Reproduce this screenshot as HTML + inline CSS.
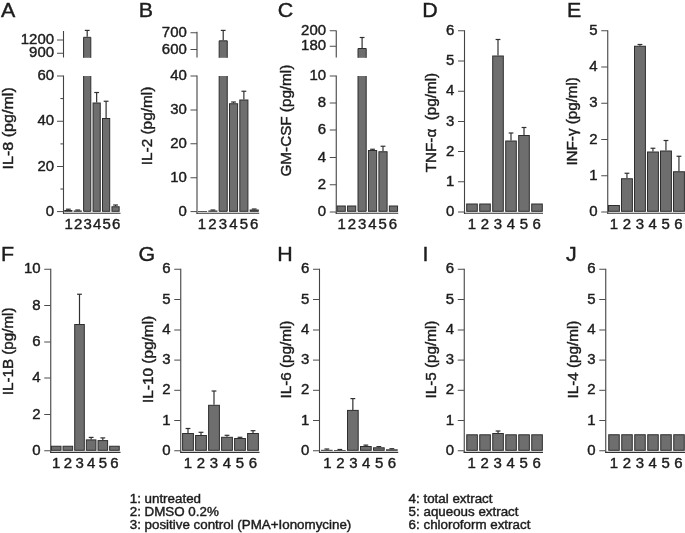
<!DOCTYPE html>
<html><head><meta charset="utf-8"><title>Figure</title>
<style>
html,body{margin:0;padding:0;background:#fff;}
svg{display:block;}
text{font-family:"Liberation Sans","DejaVu Sans",sans-serif;fill:#1c1c1c;stroke:#1c1c1c;stroke-width:0.4px;}
</style></head><body>
<svg width="685" height="533" viewBox="0 0 685 533">
<rect width="685" height="533" fill="#fff"/>
<line x1="63.50" y1="31.00" x2="63.50" y2="57.50" stroke="#424242" stroke-width="1.1"/>
<line x1="63.50" y1="75.50" x2="63.50" y2="213.85" stroke="#424242" stroke-width="1.1"/>
<line x1="57.00" y1="40.00" x2="63.50" y2="40.00" stroke="#4c4c4c" stroke-width="1"/>
<text transform="translate(54.10 44.00) scale(1.0700 1)" font-size="14" text-anchor="end">1200</text>
<line x1="57.00" y1="53.25" x2="63.50" y2="53.25" stroke="#4c4c4c" stroke-width="1"/>
<text transform="translate(54.10 57.25) scale(1.0700 1)" font-size="14" text-anchor="end">900</text>
<line x1="57.00" y1="76.00" x2="63.50" y2="76.00" stroke="#4c4c4c" stroke-width="1"/>
<text transform="translate(54.10 80.00) scale(1.0700 1)" font-size="14" text-anchor="end">60</text>
<line x1="57.00" y1="121.25" x2="63.50" y2="121.25" stroke="#4c4c4c" stroke-width="1"/>
<text transform="translate(54.10 125.25) scale(1.0700 1)" font-size="14" text-anchor="end">40</text>
<line x1="57.00" y1="166.50" x2="63.50" y2="166.50" stroke="#4c4c4c" stroke-width="1"/>
<text transform="translate(54.10 170.50) scale(1.0700 1)" font-size="14" text-anchor="end">20</text>
<line x1="57.00" y1="211.60" x2="63.50" y2="211.60" stroke="#4c4c4c" stroke-width="1"/>
<text transform="translate(54.10 215.60) scale(1.0700 1)" font-size="14" text-anchor="end">0</text>
<line x1="60.40" y1="98.60" x2="63.50" y2="98.60" stroke="#444" stroke-width="1"/>
<line x1="60.40" y1="143.90" x2="63.50" y2="143.90" stroke="#444" stroke-width="1"/>
<line x1="60.40" y1="189.00" x2="63.50" y2="189.00" stroke="#444" stroke-width="1"/>
<line x1="68.30" y1="209.20" x2="68.30" y2="210.00" stroke="#303030" stroke-width="1.2"/>
<line x1="65.90" y1="209.20" x2="70.70" y2="209.20" stroke="#303030" stroke-width="1.2"/>
<rect x="64.20" y="210.00" width="8.20" height="1.80" fill="#2e2e2e"/>
<line x1="77.75" y1="210.00" x2="77.75" y2="210.50" stroke="#303030" stroke-width="1.2"/>
<line x1="75.35" y1="210.00" x2="80.15" y2="210.00" stroke="#303030" stroke-width="1.2"/>
<rect x="73.65" y="210.50" width="8.20" height="1.30" fill="#2e2e2e"/>
<rect x="83.60" y="76.00" width="7.20" height="135.30" fill="#6e6e6e"/>
<path d="M83.60 76.00V211.30H90.80V76.00" fill="none" stroke="#2e2e2e" stroke-width="1"/>
<line x1="96.65" y1="92.50" x2="96.65" y2="102.50" stroke="#303030" stroke-width="1.2"/>
<line x1="94.25" y1="92.50" x2="99.05" y2="92.50" stroke="#303030" stroke-width="1.2"/>
<rect x="93.05" y="103.00" width="7.20" height="108.30" fill="#6e6e6e" stroke="#2e2e2e" stroke-width="1"/>
<line x1="106.10" y1="101.25" x2="106.10" y2="118.00" stroke="#303030" stroke-width="1.2"/>
<line x1="103.70" y1="101.25" x2="108.50" y2="101.25" stroke="#303030" stroke-width="1.2"/>
<rect x="102.50" y="118.50" width="7.20" height="92.80" fill="#6e6e6e" stroke="#2e2e2e" stroke-width="1"/>
<line x1="115.55" y1="205.00" x2="115.55" y2="206.25" stroke="#303030" stroke-width="1.2"/>
<line x1="113.15" y1="205.00" x2="117.95" y2="205.00" stroke="#303030" stroke-width="1.2"/>
<rect x="111.95" y="206.75" width="7.20" height="4.55" fill="#6e6e6e" stroke="#2e2e2e" stroke-width="1"/>
<line x1="87.20" y1="30.40" x2="87.20" y2="36.80" stroke="#303030" stroke-width="1.2"/>
<line x1="84.80" y1="30.40" x2="89.60" y2="30.40" stroke="#303030" stroke-width="1.2"/>
<rect x="83.60" y="37.30" width="7.20" height="20.50" fill="#6e6e6e"/>
<path d="M83.60 57.80V37.30H90.80V57.80" fill="none" stroke="#2e2e2e" stroke-width="1"/>
<line x1="62.95" y1="213.30" x2="120.50" y2="213.30" stroke="#303030" stroke-width="1.1"/>
<text transform="translate(68.75 228.90) scale(1.0700 1)" font-size="14" text-anchor="middle">1</text>
<text transform="translate(78.25 228.90) scale(1.0700 1)" font-size="14" text-anchor="middle">2</text>
<text transform="translate(87.75 228.90) scale(1.0700 1)" font-size="14" text-anchor="middle">3</text>
<text transform="translate(97.25 228.90) scale(1.0700 1)" font-size="14" text-anchor="middle">4</text>
<text transform="translate(106.75 228.90) scale(1.0700 1)" font-size="14" text-anchor="middle">5</text>
<text transform="translate(116.25 228.90) scale(1.0700 1)" font-size="14" text-anchor="middle">6</text>
<text transform="translate(12.70 169.50) rotate(-90) scale(1.1500 1)" font-size="14" text-anchor="start">IL-8 (pg/ml)</text>
<text transform="translate(0.90 16.90) scale(1.0700 1)" font-size="20" text-anchor="start">A</text>
<line x1="197.00" y1="31.75" x2="197.00" y2="57.50" stroke="#424242" stroke-width="1.1"/>
<line x1="197.00" y1="75.50" x2="197.00" y2="213.85" stroke="#424242" stroke-width="1.1"/>
<line x1="190.50" y1="32.75" x2="197.00" y2="32.75" stroke="#4c4c4c" stroke-width="1"/>
<text transform="translate(186.80 36.75) scale(1.0700 1)" font-size="14" text-anchor="end">700</text>
<line x1="190.50" y1="49.50" x2="197.00" y2="49.50" stroke="#4c4c4c" stroke-width="1"/>
<text transform="translate(186.80 53.50) scale(1.0700 1)" font-size="14" text-anchor="end">600</text>
<line x1="190.50" y1="76.00" x2="197.00" y2="76.00" stroke="#4c4c4c" stroke-width="1"/>
<text transform="translate(186.80 80.00) scale(1.0700 1)" font-size="14" text-anchor="end">40</text>
<line x1="190.50" y1="110.00" x2="197.00" y2="110.00" stroke="#4c4c4c" stroke-width="1"/>
<text transform="translate(186.80 114.00) scale(1.0700 1)" font-size="14" text-anchor="end">30</text>
<line x1="190.50" y1="143.75" x2="197.00" y2="143.75" stroke="#4c4c4c" stroke-width="1"/>
<text transform="translate(186.80 147.75) scale(1.0700 1)" font-size="14" text-anchor="end">20</text>
<line x1="190.50" y1="177.75" x2="197.00" y2="177.75" stroke="#4c4c4c" stroke-width="1"/>
<text transform="translate(186.80 181.75) scale(1.0700 1)" font-size="14" text-anchor="end">10</text>
<line x1="190.50" y1="211.60" x2="197.00" y2="211.60" stroke="#4c4c4c" stroke-width="1"/>
<text transform="translate(186.80 215.60) scale(1.0700 1)" font-size="14" text-anchor="end">0</text>
<rect x="198.00" y="211.00" width="9.10" height="0.80" fill="#2e2e2e"/>
<line x1="212.88" y1="210.00" x2="212.88" y2="210.50" stroke="#303030" stroke-width="1.2"/>
<line x1="210.48" y1="210.00" x2="215.28" y2="210.00" stroke="#303030" stroke-width="1.2"/>
<rect x="208.33" y="210.50" width="9.10" height="1.30" fill="#2e2e2e"/>
<rect x="219.16" y="76.00" width="8.10" height="135.30" fill="#6e6e6e"/>
<path d="M219.16 76.00V211.30H227.26V76.00" fill="none" stroke="#2e2e2e" stroke-width="1"/>
<line x1="233.54" y1="102.00" x2="233.54" y2="103.25" stroke="#303030" stroke-width="1.2"/>
<line x1="231.14" y1="102.00" x2="235.94" y2="102.00" stroke="#303030" stroke-width="1.2"/>
<rect x="229.49" y="103.75" width="8.10" height="107.55" fill="#6e6e6e" stroke="#2e2e2e" stroke-width="1"/>
<line x1="243.87" y1="91.25" x2="243.87" y2="99.50" stroke="#303030" stroke-width="1.2"/>
<line x1="241.47" y1="91.25" x2="246.27" y2="91.25" stroke="#303030" stroke-width="1.2"/>
<rect x="239.82" y="100.00" width="8.10" height="111.30" fill="#6e6e6e" stroke="#2e2e2e" stroke-width="1"/>
<line x1="254.20" y1="209.00" x2="254.20" y2="209.50" stroke="#303030" stroke-width="1.2"/>
<line x1="251.80" y1="209.00" x2="256.60" y2="209.00" stroke="#303030" stroke-width="1.2"/>
<rect x="250.15" y="210.00" width="8.10" height="1.30" fill="#6e6e6e" stroke="#2e2e2e" stroke-width="1"/>
<line x1="223.21" y1="30.40" x2="223.21" y2="40.30" stroke="#303030" stroke-width="1.2"/>
<line x1="220.81" y1="30.40" x2="225.61" y2="30.40" stroke="#303030" stroke-width="1.2"/>
<rect x="219.16" y="40.80" width="8.10" height="17.00" fill="#6e6e6e"/>
<path d="M219.16 57.80V40.80H227.26V57.80" fill="none" stroke="#2e2e2e" stroke-width="1"/>
<line x1="196.45" y1="213.30" x2="259.25" y2="213.30" stroke="#303030" stroke-width="1.1"/>
<text transform="translate(202.00 228.90) scale(1.0700 1)" font-size="14" text-anchor="middle">1</text>
<text transform="translate(212.45 228.90) scale(1.0700 1)" font-size="14" text-anchor="middle">2</text>
<text transform="translate(222.90 228.90) scale(1.0700 1)" font-size="14" text-anchor="middle">3</text>
<text transform="translate(233.35 228.90) scale(1.0700 1)" font-size="14" text-anchor="middle">4</text>
<text transform="translate(243.80 228.90) scale(1.0700 1)" font-size="14" text-anchor="middle">5</text>
<text transform="translate(254.25 228.90) scale(1.0700 1)" font-size="14" text-anchor="middle">6</text>
<text transform="translate(151.60 165.30) rotate(-90) scale(1.1000 1)" font-size="14" text-anchor="start">IL-2 (pg/ml)</text>
<text transform="translate(138.80 16.90) scale(1.0700 1)" font-size="20" text-anchor="start">B</text>
<line x1="336.25" y1="30.50" x2="336.25" y2="57.50" stroke="#424242" stroke-width="1.1"/>
<line x1="336.25" y1="75.50" x2="336.25" y2="213.85" stroke="#424242" stroke-width="1.1"/>
<line x1="329.75" y1="30.75" x2="336.25" y2="30.75" stroke="#4c4c4c" stroke-width="1"/>
<text transform="translate(326.05 34.75) scale(1.0700 1)" font-size="14" text-anchor="end">200</text>
<line x1="329.75" y1="46.25" x2="336.25" y2="46.25" stroke="#4c4c4c" stroke-width="1"/>
<text transform="translate(326.05 50.25) scale(1.0700 1)" font-size="14" text-anchor="end">180</text>
<line x1="329.75" y1="76.00" x2="336.25" y2="76.00" stroke="#4c4c4c" stroke-width="1"/>
<text transform="translate(326.05 80.00) scale(1.0700 1)" font-size="14" text-anchor="end">10</text>
<line x1="329.75" y1="103.00" x2="336.25" y2="103.00" stroke="#4c4c4c" stroke-width="1"/>
<text transform="translate(326.05 107.00) scale(1.0700 1)" font-size="14" text-anchor="end">8</text>
<line x1="329.75" y1="130.00" x2="336.25" y2="130.00" stroke="#4c4c4c" stroke-width="1"/>
<text transform="translate(326.05 134.00) scale(1.0700 1)" font-size="14" text-anchor="end">6</text>
<line x1="329.75" y1="157.50" x2="336.25" y2="157.50" stroke="#4c4c4c" stroke-width="1"/>
<text transform="translate(326.05 161.50) scale(1.0700 1)" font-size="14" text-anchor="end">4</text>
<line x1="329.75" y1="184.75" x2="336.25" y2="184.75" stroke="#4c4c4c" stroke-width="1"/>
<text transform="translate(326.05 188.75) scale(1.0700 1)" font-size="14" text-anchor="end">2</text>
<line x1="329.75" y1="212.00" x2="336.25" y2="212.00" stroke="#4c4c4c" stroke-width="1"/>
<text transform="translate(326.05 216.00) scale(1.0700 1)" font-size="14" text-anchor="end">0</text>
<rect x="337.10" y="206.00" width="8.20" height="5.30" fill="#6e6e6e" stroke="#2e2e2e" stroke-width="1"/>
<rect x="347.55" y="206.00" width="8.20" height="5.30" fill="#6e6e6e" stroke="#2e2e2e" stroke-width="1"/>
<rect x="358.00" y="76.00" width="8.20" height="135.30" fill="#6e6e6e"/>
<path d="M358.00 76.00V211.30H366.20V76.00" fill="none" stroke="#2e2e2e" stroke-width="1"/>
<line x1="372.55" y1="149.25" x2="372.55" y2="150.00" stroke="#303030" stroke-width="1.2"/>
<line x1="370.15" y1="149.25" x2="374.95" y2="149.25" stroke="#303030" stroke-width="1.2"/>
<rect x="368.45" y="150.50" width="8.20" height="60.80" fill="#6e6e6e" stroke="#2e2e2e" stroke-width="1"/>
<line x1="383.00" y1="146.25" x2="383.00" y2="151.25" stroke="#303030" stroke-width="1.2"/>
<line x1="380.60" y1="146.25" x2="385.40" y2="146.25" stroke="#303030" stroke-width="1.2"/>
<rect x="378.90" y="151.75" width="8.20" height="59.55" fill="#6e6e6e" stroke="#2e2e2e" stroke-width="1"/>
<rect x="389.35" y="206.00" width="8.20" height="5.30" fill="#6e6e6e" stroke="#2e2e2e" stroke-width="1"/>
<line x1="362.10" y1="37.50" x2="362.10" y2="48.00" stroke="#303030" stroke-width="1.2"/>
<line x1="359.70" y1="37.50" x2="364.50" y2="37.50" stroke="#303030" stroke-width="1.2"/>
<rect x="358.00" y="48.50" width="8.20" height="9.30" fill="#6e6e6e"/>
<path d="M358.00 57.80V48.50H366.20V57.80" fill="none" stroke="#2e2e2e" stroke-width="1"/>
<line x1="335.70" y1="213.30" x2="398.25" y2="213.30" stroke="#303030" stroke-width="1.1"/>
<text transform="translate(341.75 228.90) scale(1.0700 1)" font-size="14" text-anchor="middle">1</text>
<text transform="translate(352.00 228.90) scale(1.0700 1)" font-size="14" text-anchor="middle">2</text>
<text transform="translate(362.25 228.90) scale(1.0700 1)" font-size="14" text-anchor="middle">3</text>
<text transform="translate(372.50 228.90) scale(1.0700 1)" font-size="14" text-anchor="middle">4</text>
<text transform="translate(382.75 228.90) scale(1.0700 1)" font-size="14" text-anchor="middle">5</text>
<text transform="translate(393.00 228.90) scale(1.0700 1)" font-size="14" text-anchor="middle">6</text>
<text transform="translate(290.50 176.50) rotate(-90) scale(1.0900 1)" font-size="14" text-anchor="start">GM-CSF (pg/ml)</text>
<text transform="translate(277.75 16.90) scale(1.0700 1)" font-size="20" text-anchor="start">C</text>
<line x1="464.50" y1="30.25" x2="464.50" y2="213.85" stroke="#424242" stroke-width="1.1"/>
<line x1="458.00" y1="30.75" x2="464.50" y2="30.75" stroke="#4c4c4c" stroke-width="1"/>
<text transform="translate(454.30 34.75) scale(1.0700 1)" font-size="14" text-anchor="end">6</text>
<line x1="458.00" y1="61.00" x2="464.50" y2="61.00" stroke="#4c4c4c" stroke-width="1"/>
<text transform="translate(454.30 65.00) scale(1.0700 1)" font-size="14" text-anchor="end">5</text>
<line x1="458.00" y1="91.25" x2="464.50" y2="91.25" stroke="#4c4c4c" stroke-width="1"/>
<text transform="translate(454.30 95.25) scale(1.0700 1)" font-size="14" text-anchor="end">4</text>
<line x1="458.00" y1="121.50" x2="464.50" y2="121.50" stroke="#4c4c4c" stroke-width="1"/>
<text transform="translate(454.30 125.50) scale(1.0700 1)" font-size="14" text-anchor="end">3</text>
<line x1="458.00" y1="151.50" x2="464.50" y2="151.50" stroke="#4c4c4c" stroke-width="1"/>
<text transform="translate(454.30 155.50) scale(1.0700 1)" font-size="14" text-anchor="end">2</text>
<line x1="458.00" y1="181.75" x2="464.50" y2="181.75" stroke="#4c4c4c" stroke-width="1"/>
<text transform="translate(454.30 185.75) scale(1.0700 1)" font-size="14" text-anchor="end">1</text>
<line x1="458.00" y1="212.00" x2="464.50" y2="212.00" stroke="#4c4c4c" stroke-width="1"/>
<text transform="translate(454.30 216.00) scale(1.0700 1)" font-size="14" text-anchor="end">0</text>
<rect x="466.70" y="204.00" width="10.60" height="7.30" fill="#6e6e6e" stroke="#2e2e2e" stroke-width="1"/>
<rect x="479.70" y="204.00" width="10.60" height="7.30" fill="#6e6e6e" stroke="#2e2e2e" stroke-width="1"/>
<line x1="498.00" y1="39.50" x2="498.00" y2="55.50" stroke="#303030" stroke-width="1.2"/>
<line x1="495.60" y1="39.50" x2="500.40" y2="39.50" stroke="#303030" stroke-width="1.2"/>
<rect x="492.70" y="56.00" width="10.60" height="155.30" fill="#6e6e6e" stroke="#2e2e2e" stroke-width="1"/>
<line x1="511.00" y1="133.00" x2="511.00" y2="140.50" stroke="#303030" stroke-width="1.2"/>
<line x1="508.60" y1="133.00" x2="513.40" y2="133.00" stroke="#303030" stroke-width="1.2"/>
<rect x="505.70" y="141.00" width="10.60" height="70.30" fill="#6e6e6e" stroke="#2e2e2e" stroke-width="1"/>
<line x1="524.00" y1="127.50" x2="524.00" y2="135.00" stroke="#303030" stroke-width="1.2"/>
<line x1="521.60" y1="127.50" x2="526.40" y2="127.50" stroke="#303030" stroke-width="1.2"/>
<rect x="518.70" y="135.50" width="10.60" height="75.80" fill="#6e6e6e" stroke="#2e2e2e" stroke-width="1"/>
<rect x="531.70" y="204.00" width="10.60" height="7.30" fill="#6e6e6e" stroke="#2e2e2e" stroke-width="1"/>
<line x1="463.95" y1="213.30" x2="543.00" y2="213.30" stroke="#303030" stroke-width="1.1"/>
<text transform="translate(472.00 228.90) scale(1.0700 1)" font-size="14" text-anchor="middle">1</text>
<text transform="translate(484.95 228.90) scale(1.0700 1)" font-size="14" text-anchor="middle">2</text>
<text transform="translate(497.90 228.90) scale(1.0700 1)" font-size="14" text-anchor="middle">3</text>
<text transform="translate(510.85 228.90) scale(1.0700 1)" font-size="14" text-anchor="middle">4</text>
<text transform="translate(523.80 228.90) scale(1.0700 1)" font-size="14" text-anchor="middle">5</text>
<text transform="translate(536.75 228.90) scale(1.0700 1)" font-size="14" text-anchor="middle">6</text>
<text transform="translate(436.00 172.30) rotate(-90) scale(1.0900 1)" font-size="14" text-anchor="start">TNF-α&#160;&#160;(pg/ml)</text>
<text transform="translate(422.20 16.90) scale(1.0700 1)" font-size="20" text-anchor="start">D</text>
<line x1="607.75" y1="30.25" x2="607.75" y2="213.85" stroke="#424242" stroke-width="1.1"/>
<line x1="601.25" y1="30.75" x2="607.75" y2="30.75" stroke="#4c4c4c" stroke-width="1"/>
<text transform="translate(597.55 34.75) scale(1.0700 1)" font-size="14" text-anchor="end">5</text>
<line x1="601.25" y1="67.00" x2="607.75" y2="67.00" stroke="#4c4c4c" stroke-width="1"/>
<text transform="translate(597.55 71.00) scale(1.0700 1)" font-size="14" text-anchor="end">4</text>
<line x1="601.25" y1="103.25" x2="607.75" y2="103.25" stroke="#4c4c4c" stroke-width="1"/>
<text transform="translate(597.55 107.25) scale(1.0700 1)" font-size="14" text-anchor="end">3</text>
<line x1="601.25" y1="139.50" x2="607.75" y2="139.50" stroke="#4c4c4c" stroke-width="1"/>
<text transform="translate(597.55 143.50) scale(1.0700 1)" font-size="14" text-anchor="end">2</text>
<line x1="601.25" y1="175.75" x2="607.75" y2="175.75" stroke="#4c4c4c" stroke-width="1"/>
<text transform="translate(597.55 179.75) scale(1.0700 1)" font-size="14" text-anchor="end">1</text>
<line x1="601.25" y1="212.00" x2="607.75" y2="212.00" stroke="#4c4c4c" stroke-width="1"/>
<text transform="translate(597.55 216.00) scale(1.0700 1)" font-size="14" text-anchor="end">0</text>
<rect x="608.50" y="205.50" width="10.90" height="5.80" fill="#6e6e6e" stroke="#2e2e2e" stroke-width="1"/>
<line x1="626.95" y1="173.25" x2="626.95" y2="178.25" stroke="#303030" stroke-width="1.2"/>
<line x1="624.55" y1="173.25" x2="629.35" y2="173.25" stroke="#303030" stroke-width="1.2"/>
<rect x="621.50" y="178.75" width="10.90" height="32.55" fill="#6e6e6e" stroke="#2e2e2e" stroke-width="1"/>
<line x1="639.95" y1="44.50" x2="639.95" y2="45.75" stroke="#303030" stroke-width="1.2"/>
<line x1="637.55" y1="44.50" x2="642.35" y2="44.50" stroke="#303030" stroke-width="1.2"/>
<rect x="634.50" y="46.25" width="10.90" height="165.05" fill="#6e6e6e" stroke="#2e2e2e" stroke-width="1"/>
<line x1="652.95" y1="148.25" x2="652.95" y2="151.50" stroke="#303030" stroke-width="1.2"/>
<line x1="650.55" y1="148.25" x2="655.35" y2="148.25" stroke="#303030" stroke-width="1.2"/>
<rect x="647.50" y="152.00" width="10.90" height="59.30" fill="#6e6e6e" stroke="#2e2e2e" stroke-width="1"/>
<line x1="665.95" y1="140.50" x2="665.95" y2="150.50" stroke="#303030" stroke-width="1.2"/>
<line x1="663.55" y1="140.50" x2="668.35" y2="140.50" stroke="#303030" stroke-width="1.2"/>
<rect x="660.50" y="151.00" width="10.90" height="60.30" fill="#6e6e6e" stroke="#2e2e2e" stroke-width="1"/>
<line x1="678.95" y1="156.25" x2="678.95" y2="171.25" stroke="#303030" stroke-width="1.2"/>
<line x1="676.55" y1="156.25" x2="681.35" y2="156.25" stroke="#303030" stroke-width="1.2"/>
<rect x="673.50" y="171.75" width="10.90" height="39.55" fill="#6e6e6e" stroke="#2e2e2e" stroke-width="1"/>
<line x1="607.20" y1="213.30" x2="686.00" y2="213.30" stroke="#303030" stroke-width="1.1"/>
<text transform="translate(614.00 228.90) scale(1.0700 1)" font-size="14" text-anchor="middle">1</text>
<text transform="translate(626.90 228.90) scale(1.0700 1)" font-size="14" text-anchor="middle">2</text>
<text transform="translate(639.80 228.90) scale(1.0700 1)" font-size="14" text-anchor="middle">3</text>
<text transform="translate(652.70 228.90) scale(1.0700 1)" font-size="14" text-anchor="middle">4</text>
<text transform="translate(665.60 228.90) scale(1.0700 1)" font-size="14" text-anchor="middle">5</text>
<text transform="translate(678.50 228.90) scale(1.0700 1)" font-size="14" text-anchor="middle">6</text>
<text transform="translate(577.00 165.60) rotate(-90) scale(1.0850 1)" font-size="14" text-anchor="start">INF-γ (pg/ml)</text>
<text transform="translate(566.90 16.90) scale(1.0700 1)" font-size="20" text-anchor="start">E</text>
<line x1="50.75" y1="268.75" x2="50.75" y2="452.95" stroke="#424242" stroke-width="1.1"/>
<line x1="44.25" y1="269.25" x2="50.75" y2="269.25" stroke="#4c4c4c" stroke-width="1"/>
<text transform="translate(40.55 273.25) scale(1.0700 1)" font-size="14" text-anchor="end">10</text>
<line x1="44.25" y1="305.50" x2="50.75" y2="305.50" stroke="#4c4c4c" stroke-width="1"/>
<text transform="translate(40.55 309.50) scale(1.0700 1)" font-size="14" text-anchor="end">8</text>
<line x1="44.25" y1="342.00" x2="50.75" y2="342.00" stroke="#4c4c4c" stroke-width="1"/>
<text transform="translate(40.55 346.00) scale(1.0700 1)" font-size="14" text-anchor="end">6</text>
<line x1="44.25" y1="378.00" x2="50.75" y2="378.00" stroke="#4c4c4c" stroke-width="1"/>
<text transform="translate(40.55 382.00) scale(1.0700 1)" font-size="14" text-anchor="end">4</text>
<line x1="44.25" y1="414.50" x2="50.75" y2="414.50" stroke="#4c4c4c" stroke-width="1"/>
<text transform="translate(40.55 418.50) scale(1.0700 1)" font-size="14" text-anchor="end">2</text>
<line x1="44.25" y1="450.75" x2="50.75" y2="450.75" stroke="#4c4c4c" stroke-width="1"/>
<text transform="translate(40.55 454.75) scale(1.0700 1)" font-size="14" text-anchor="end">0</text>
<rect x="51.40" y="446.25" width="9.60" height="4.05" fill="#6e6e6e" stroke="#2e2e2e" stroke-width="1"/>
<rect x="63.05" y="446.25" width="9.60" height="4.05" fill="#6e6e6e" stroke="#2e2e2e" stroke-width="1"/>
<line x1="79.50" y1="294.25" x2="79.50" y2="324.00" stroke="#303030" stroke-width="1.2"/>
<line x1="77.10" y1="294.25" x2="81.90" y2="294.25" stroke="#303030" stroke-width="1.2"/>
<rect x="74.70" y="324.50" width="9.60" height="125.80" fill="#6e6e6e" stroke="#2e2e2e" stroke-width="1"/>
<line x1="91.15" y1="437.40" x2="91.15" y2="439.40" stroke="#303030" stroke-width="1.2"/>
<line x1="88.75" y1="437.40" x2="93.55" y2="437.40" stroke="#303030" stroke-width="1.2"/>
<rect x="86.35" y="439.90" width="9.60" height="10.40" fill="#6e6e6e" stroke="#2e2e2e" stroke-width="1"/>
<line x1="102.80" y1="437.90" x2="102.80" y2="440.10" stroke="#303030" stroke-width="1.2"/>
<line x1="100.40" y1="437.90" x2="105.20" y2="437.90" stroke="#303030" stroke-width="1.2"/>
<rect x="98.00" y="440.60" width="9.60" height="9.70" fill="#6e6e6e" stroke="#2e2e2e" stroke-width="1"/>
<rect x="109.65" y="446.25" width="9.60" height="4.05" fill="#6e6e6e" stroke="#2e2e2e" stroke-width="1"/>
<line x1="50.20" y1="452.40" x2="120.50" y2="452.40" stroke="#303030" stroke-width="1.1"/>
<text transform="translate(56.25 467.60) scale(1.0700 1)" font-size="14" text-anchor="middle">1</text>
<text transform="translate(67.90 467.60) scale(1.0700 1)" font-size="14" text-anchor="middle">2</text>
<text transform="translate(79.55 467.60) scale(1.0700 1)" font-size="14" text-anchor="middle">3</text>
<text transform="translate(91.20 467.60) scale(1.0700 1)" font-size="14" text-anchor="middle">4</text>
<text transform="translate(102.85 467.60) scale(1.0700 1)" font-size="14" text-anchor="middle">5</text>
<text transform="translate(114.50 467.60) scale(1.0700 1)" font-size="14" text-anchor="middle">6</text>
<text transform="translate(12.60 395.20) rotate(-90) scale(1.0850 1)" font-size="14" text-anchor="start">IL-1B (pg/ml)</text>
<text transform="translate(0.90 260.75) scale(1.0700 1)" font-size="20" text-anchor="start">F</text>
<line x1="180.75" y1="268.75" x2="180.75" y2="452.95" stroke="#424242" stroke-width="1.1"/>
<line x1="174.25" y1="269.25" x2="180.75" y2="269.25" stroke="#4c4c4c" stroke-width="1"/>
<text transform="translate(170.55 273.25) scale(1.0700 1)" font-size="14" text-anchor="end">6</text>
<line x1="174.25" y1="299.50" x2="180.75" y2="299.50" stroke="#4c4c4c" stroke-width="1"/>
<text transform="translate(170.55 303.50) scale(1.0700 1)" font-size="14" text-anchor="end">5</text>
<line x1="174.25" y1="330.00" x2="180.75" y2="330.00" stroke="#4c4c4c" stroke-width="1"/>
<text transform="translate(170.55 334.00) scale(1.0700 1)" font-size="14" text-anchor="end">4</text>
<line x1="174.25" y1="360.10" x2="180.75" y2="360.10" stroke="#4c4c4c" stroke-width="1"/>
<text transform="translate(170.55 364.10) scale(1.0700 1)" font-size="14" text-anchor="end">3</text>
<line x1="174.25" y1="390.30" x2="180.75" y2="390.30" stroke="#4c4c4c" stroke-width="1"/>
<text transform="translate(170.55 394.30) scale(1.0700 1)" font-size="14" text-anchor="end">2</text>
<line x1="174.25" y1="420.50" x2="180.75" y2="420.50" stroke="#4c4c4c" stroke-width="1"/>
<text transform="translate(170.55 424.50) scale(1.0700 1)" font-size="14" text-anchor="end">1</text>
<line x1="174.25" y1="450.75" x2="180.75" y2="450.75" stroke="#4c4c4c" stroke-width="1"/>
<text transform="translate(170.55 454.75) scale(1.0700 1)" font-size="14" text-anchor="end">0</text>
<line x1="188.00" y1="428.50" x2="188.00" y2="433.00" stroke="#303030" stroke-width="1.2"/>
<line x1="185.60" y1="428.50" x2="190.40" y2="428.50" stroke="#303030" stroke-width="1.2"/>
<rect x="182.60" y="433.50" width="10.80" height="16.80" fill="#6e6e6e" stroke="#2e2e2e" stroke-width="1"/>
<line x1="201.00" y1="432.30" x2="201.00" y2="435.00" stroke="#303030" stroke-width="1.2"/>
<line x1="198.60" y1="432.30" x2="203.40" y2="432.30" stroke="#303030" stroke-width="1.2"/>
<rect x="195.60" y="435.50" width="10.80" height="14.80" fill="#6e6e6e" stroke="#2e2e2e" stroke-width="1"/>
<line x1="214.00" y1="391.00" x2="214.00" y2="404.80" stroke="#303030" stroke-width="1.2"/>
<line x1="211.60" y1="391.00" x2="216.40" y2="391.00" stroke="#303030" stroke-width="1.2"/>
<rect x="208.60" y="405.30" width="10.80" height="45.00" fill="#6e6e6e" stroke="#2e2e2e" stroke-width="1"/>
<line x1="227.00" y1="435.30" x2="227.00" y2="436.80" stroke="#303030" stroke-width="1.2"/>
<line x1="224.60" y1="435.30" x2="229.40" y2="435.30" stroke="#303030" stroke-width="1.2"/>
<rect x="221.60" y="437.30" width="10.80" height="13.00" fill="#6e6e6e" stroke="#2e2e2e" stroke-width="1"/>
<line x1="240.00" y1="437.30" x2="240.00" y2="438.00" stroke="#303030" stroke-width="1.2"/>
<line x1="237.60" y1="437.30" x2="242.40" y2="437.30" stroke="#303030" stroke-width="1.2"/>
<rect x="234.60" y="438.50" width="10.80" height="11.80" fill="#6e6e6e" stroke="#2e2e2e" stroke-width="1"/>
<line x1="253.00" y1="430.70" x2="253.00" y2="433.00" stroke="#303030" stroke-width="1.2"/>
<line x1="250.60" y1="430.70" x2="255.40" y2="430.70" stroke="#303030" stroke-width="1.2"/>
<rect x="247.60" y="433.50" width="10.80" height="16.80" fill="#6e6e6e" stroke="#2e2e2e" stroke-width="1"/>
<line x1="180.20" y1="452.40" x2="259.50" y2="452.40" stroke="#303030" stroke-width="1.1"/>
<text transform="translate(188.00 467.60) scale(1.0700 1)" font-size="14" text-anchor="middle">1</text>
<text transform="translate(201.00 467.60) scale(1.0700 1)" font-size="14" text-anchor="middle">2</text>
<text transform="translate(214.00 467.60) scale(1.0700 1)" font-size="14" text-anchor="middle">3</text>
<text transform="translate(227.00 467.60) scale(1.0700 1)" font-size="14" text-anchor="middle">4</text>
<text transform="translate(240.00 467.60) scale(1.0700 1)" font-size="14" text-anchor="middle">5</text>
<text transform="translate(253.00 467.60) scale(1.0700 1)" font-size="14" text-anchor="middle">6</text>
<text transform="translate(152.50 403.00) rotate(-90) scale(1.1000 1)" font-size="14" text-anchor="start">IL-10 (pg/ml)</text>
<text transform="translate(138.60 261.00) scale(1.0700 1)" font-size="20" text-anchor="start">G</text>
<line x1="319.50" y1="268.75" x2="319.50" y2="452.95" stroke="#424242" stroke-width="1.1"/>
<line x1="313.00" y1="269.25" x2="319.50" y2="269.25" stroke="#4c4c4c" stroke-width="1"/>
<text transform="translate(309.30 273.25) scale(1.0700 1)" font-size="14" text-anchor="end">6</text>
<line x1="313.00" y1="299.50" x2="319.50" y2="299.50" stroke="#4c4c4c" stroke-width="1"/>
<text transform="translate(309.30 303.50) scale(1.0700 1)" font-size="14" text-anchor="end">5</text>
<line x1="313.00" y1="330.00" x2="319.50" y2="330.00" stroke="#4c4c4c" stroke-width="1"/>
<text transform="translate(309.30 334.00) scale(1.0700 1)" font-size="14" text-anchor="end">4</text>
<line x1="313.00" y1="360.10" x2="319.50" y2="360.10" stroke="#4c4c4c" stroke-width="1"/>
<text transform="translate(309.30 364.10) scale(1.0700 1)" font-size="14" text-anchor="end">3</text>
<line x1="313.00" y1="390.30" x2="319.50" y2="390.30" stroke="#4c4c4c" stroke-width="1"/>
<text transform="translate(309.30 394.30) scale(1.0700 1)" font-size="14" text-anchor="end">2</text>
<line x1="313.00" y1="420.50" x2="319.50" y2="420.50" stroke="#4c4c4c" stroke-width="1"/>
<text transform="translate(309.30 424.50) scale(1.0700 1)" font-size="14" text-anchor="end">1</text>
<line x1="313.00" y1="450.75" x2="319.50" y2="450.75" stroke="#4c4c4c" stroke-width="1"/>
<text transform="translate(309.30 454.75) scale(1.0700 1)" font-size="14" text-anchor="end">0</text>
<line x1="326.85" y1="449.00" x2="326.85" y2="449.80" stroke="#303030" stroke-width="1.2"/>
<line x1="324.45" y1="449.00" x2="329.25" y2="449.00" stroke="#303030" stroke-width="1.2"/>
<rect x="321.00" y="449.80" width="11.70" height="1.00" fill="#2e2e2e"/>
<line x1="339.85" y1="449.50" x2="339.85" y2="450.00" stroke="#303030" stroke-width="1.2"/>
<line x1="337.45" y1="449.50" x2="342.25" y2="449.50" stroke="#303030" stroke-width="1.2"/>
<rect x="334.00" y="450.00" width="11.70" height="0.80" fill="#2e2e2e"/>
<line x1="352.85" y1="398.60" x2="352.85" y2="409.90" stroke="#303030" stroke-width="1.2"/>
<line x1="350.45" y1="398.60" x2="355.25" y2="398.60" stroke="#303030" stroke-width="1.2"/>
<rect x="347.50" y="410.40" width="10.70" height="39.90" fill="#6e6e6e" stroke="#2e2e2e" stroke-width="1"/>
<line x1="365.85" y1="445.10" x2="365.85" y2="446.00" stroke="#303030" stroke-width="1.2"/>
<line x1="363.45" y1="445.10" x2="368.25" y2="445.10" stroke="#303030" stroke-width="1.2"/>
<rect x="360.50" y="446.50" width="10.70" height="3.80" fill="#6e6e6e" stroke="#2e2e2e" stroke-width="1"/>
<line x1="378.85" y1="446.60" x2="378.85" y2="447.30" stroke="#303030" stroke-width="1.2"/>
<line x1="376.45" y1="446.60" x2="381.25" y2="446.60" stroke="#303030" stroke-width="1.2"/>
<rect x="373.50" y="447.80" width="10.70" height="2.50" fill="#6e6e6e" stroke="#2e2e2e" stroke-width="1"/>
<line x1="391.85" y1="448.70" x2="391.85" y2="449.30" stroke="#303030" stroke-width="1.2"/>
<line x1="389.45" y1="448.70" x2="394.25" y2="448.70" stroke="#303030" stroke-width="1.2"/>
<rect x="386.00" y="449.30" width="11.70" height="1.50" fill="#2e2e2e"/>
<line x1="318.95" y1="452.40" x2="398.25" y2="452.40" stroke="#303030" stroke-width="1.1"/>
<text transform="translate(327.50 467.60) scale(1.0700 1)" font-size="14" text-anchor="middle">1</text>
<text transform="translate(340.40 467.60) scale(1.0700 1)" font-size="14" text-anchor="middle">2</text>
<text transform="translate(353.30 467.60) scale(1.0700 1)" font-size="14" text-anchor="middle">3</text>
<text transform="translate(366.20 467.60) scale(1.0700 1)" font-size="14" text-anchor="middle">4</text>
<text transform="translate(379.10 467.60) scale(1.0700 1)" font-size="14" text-anchor="middle">5</text>
<text transform="translate(392.00 467.60) scale(1.0700 1)" font-size="14" text-anchor="middle">6</text>
<text transform="translate(290.60 398.50) rotate(-90) scale(1.0900 1)" font-size="14" text-anchor="start">IL-6 (pg/ml)</text>
<text transform="translate(277.20 260.75) scale(1.0700 1)" font-size="20" text-anchor="start">H</text>
<line x1="464.25" y1="268.75" x2="464.25" y2="452.95" stroke="#424242" stroke-width="1.1"/>
<line x1="457.75" y1="269.25" x2="464.25" y2="269.25" stroke="#4c4c4c" stroke-width="1"/>
<text transform="translate(454.05 273.25) scale(1.0700 1)" font-size="14" text-anchor="end">6</text>
<line x1="457.75" y1="299.50" x2="464.25" y2="299.50" stroke="#4c4c4c" stroke-width="1"/>
<text transform="translate(454.05 303.50) scale(1.0700 1)" font-size="14" text-anchor="end">5</text>
<line x1="457.75" y1="330.00" x2="464.25" y2="330.00" stroke="#4c4c4c" stroke-width="1"/>
<text transform="translate(454.05 334.00) scale(1.0700 1)" font-size="14" text-anchor="end">4</text>
<line x1="457.75" y1="360.10" x2="464.25" y2="360.10" stroke="#4c4c4c" stroke-width="1"/>
<text transform="translate(454.05 364.10) scale(1.0700 1)" font-size="14" text-anchor="end">3</text>
<line x1="457.75" y1="390.30" x2="464.25" y2="390.30" stroke="#4c4c4c" stroke-width="1"/>
<text transform="translate(454.05 394.30) scale(1.0700 1)" font-size="14" text-anchor="end">2</text>
<line x1="457.75" y1="420.50" x2="464.25" y2="420.50" stroke="#4c4c4c" stroke-width="1"/>
<text transform="translate(454.05 424.50) scale(1.0700 1)" font-size="14" text-anchor="end">1</text>
<line x1="457.75" y1="450.75" x2="464.25" y2="450.75" stroke="#4c4c4c" stroke-width="1"/>
<text transform="translate(454.05 454.75) scale(1.0700 1)" font-size="14" text-anchor="end">0</text>
<rect x="466.75" y="434.80" width="10.60" height="15.50" fill="#6e6e6e" stroke="#2e2e2e" stroke-width="1"/>
<rect x="479.75" y="434.80" width="10.60" height="15.50" fill="#6e6e6e" stroke="#2e2e2e" stroke-width="1"/>
<line x1="498.05" y1="431.00" x2="498.05" y2="433.00" stroke="#303030" stroke-width="1.2"/>
<line x1="495.65" y1="431.00" x2="500.45" y2="431.00" stroke="#303030" stroke-width="1.2"/>
<rect x="492.75" y="433.50" width="10.60" height="16.80" fill="#6e6e6e" stroke="#2e2e2e" stroke-width="1"/>
<rect x="505.75" y="434.80" width="10.60" height="15.50" fill="#6e6e6e" stroke="#2e2e2e" stroke-width="1"/>
<rect x="518.75" y="434.80" width="10.60" height="15.50" fill="#6e6e6e" stroke="#2e2e2e" stroke-width="1"/>
<rect x="531.75" y="434.80" width="10.60" height="15.50" fill="#6e6e6e" stroke="#2e2e2e" stroke-width="1"/>
<line x1="463.70" y1="452.40" x2="543.00" y2="452.40" stroke="#303030" stroke-width="1.1"/>
<text transform="translate(471.75 467.60) scale(1.0700 1)" font-size="14" text-anchor="middle">1</text>
<text transform="translate(484.75 467.60) scale(1.0700 1)" font-size="14" text-anchor="middle">2</text>
<text transform="translate(497.75 467.60) scale(1.0700 1)" font-size="14" text-anchor="middle">3</text>
<text transform="translate(510.75 467.60) scale(1.0700 1)" font-size="14" text-anchor="middle">4</text>
<text transform="translate(523.75 467.60) scale(1.0700 1)" font-size="14" text-anchor="middle">5</text>
<text transform="translate(536.75 467.60) scale(1.0700 1)" font-size="14" text-anchor="middle">6</text>
<text transform="translate(435.80 398.50) rotate(-90) scale(1.0900 1)" font-size="14" text-anchor="start">IL-5 (pg/ml)</text>
<text transform="translate(422.40 260.75) scale(1.0700 1)" font-size="20" text-anchor="start">I</text>
<line x1="605.75" y1="268.75" x2="605.75" y2="452.95" stroke="#424242" stroke-width="1.1"/>
<line x1="599.25" y1="269.25" x2="605.75" y2="269.25" stroke="#4c4c4c" stroke-width="1"/>
<text transform="translate(595.55 273.25) scale(1.0700 1)" font-size="14" text-anchor="end">6</text>
<line x1="599.25" y1="299.50" x2="605.75" y2="299.50" stroke="#4c4c4c" stroke-width="1"/>
<text transform="translate(595.55 303.50) scale(1.0700 1)" font-size="14" text-anchor="end">5</text>
<line x1="599.25" y1="330.00" x2="605.75" y2="330.00" stroke="#4c4c4c" stroke-width="1"/>
<text transform="translate(595.55 334.00) scale(1.0700 1)" font-size="14" text-anchor="end">4</text>
<line x1="599.25" y1="360.10" x2="605.75" y2="360.10" stroke="#4c4c4c" stroke-width="1"/>
<text transform="translate(595.55 364.10) scale(1.0700 1)" font-size="14" text-anchor="end">3</text>
<line x1="599.25" y1="390.30" x2="605.75" y2="390.30" stroke="#4c4c4c" stroke-width="1"/>
<text transform="translate(595.55 394.30) scale(1.0700 1)" font-size="14" text-anchor="end">2</text>
<line x1="599.25" y1="420.50" x2="605.75" y2="420.50" stroke="#4c4c4c" stroke-width="1"/>
<text transform="translate(595.55 424.50) scale(1.0700 1)" font-size="14" text-anchor="end">1</text>
<line x1="599.25" y1="450.75" x2="605.75" y2="450.75" stroke="#4c4c4c" stroke-width="1"/>
<text transform="translate(595.55 454.75) scale(1.0700 1)" font-size="14" text-anchor="end">0</text>
<rect x="608.75" y="434.75" width="10.50" height="15.55" fill="#6e6e6e" stroke="#2e2e2e" stroke-width="1"/>
<rect x="621.75" y="434.75" width="10.50" height="15.55" fill="#6e6e6e" stroke="#2e2e2e" stroke-width="1"/>
<rect x="634.75" y="434.75" width="10.50" height="15.55" fill="#6e6e6e" stroke="#2e2e2e" stroke-width="1"/>
<rect x="647.75" y="434.75" width="10.50" height="15.55" fill="#6e6e6e" stroke="#2e2e2e" stroke-width="1"/>
<rect x="660.75" y="434.75" width="10.50" height="15.55" fill="#6e6e6e" stroke="#2e2e2e" stroke-width="1"/>
<rect x="673.75" y="434.75" width="10.50" height="15.55" fill="#6e6e6e" stroke="#2e2e2e" stroke-width="1"/>
<line x1="605.20" y1="452.40" x2="686.00" y2="452.40" stroke="#303030" stroke-width="1.1"/>
<text transform="translate(614.00 467.60) scale(1.0700 1)" font-size="14" text-anchor="middle">1</text>
<text transform="translate(626.90 467.60) scale(1.0700 1)" font-size="14" text-anchor="middle">2</text>
<text transform="translate(639.80 467.60) scale(1.0700 1)" font-size="14" text-anchor="middle">3</text>
<text transform="translate(652.70 467.60) scale(1.0700 1)" font-size="14" text-anchor="middle">4</text>
<text transform="translate(665.60 467.60) scale(1.0700 1)" font-size="14" text-anchor="middle">5</text>
<text transform="translate(678.50 467.60) scale(1.0700 1)" font-size="14" text-anchor="middle">6</text>
<text transform="translate(578.00 398.50) rotate(-90) scale(1.0900 1)" font-size="14" text-anchor="start">IL-4 (pg/ml)</text>
<text transform="translate(565.90 261.00) scale(1.0700 1)" font-size="20" text-anchor="start">J</text>
<text transform="translate(129.70 503.10) scale(1.1150 1)" font-size="12" text-anchor="start">1: untreated</text>
<text transform="translate(129.70 515.85) scale(1.1150 1)" font-size="12" text-anchor="start">2: DMSO 0.2%</text>
<text transform="translate(129.70 528.60) scale(1.1150 1)" font-size="12" text-anchor="start">3: positive control (PMA+Ionomycine)</text>
<text transform="translate(408.60 503.10) scale(1.1150 1)" font-size="12" text-anchor="start">4: total extract</text>
<text transform="translate(408.60 515.85) scale(1.1150 1)" font-size="12" text-anchor="start">5: aqueous extract</text>
<text transform="translate(408.60 528.60) scale(1.1150 1)" font-size="12" text-anchor="start">6: chloroform extract</text>
</svg>
</body></html>
